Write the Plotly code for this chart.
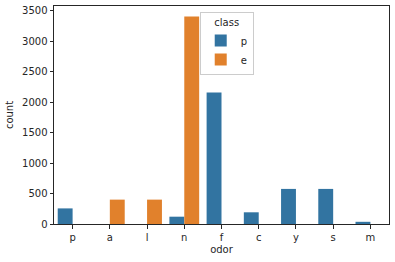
import plotly.graph_objects as go

odor = ["p", "a", "l", "n", "f", "c", "y", "s", "m"]
count_p = [256, 0, 0, 120, 2160, 192, 576, 576, 36]
count_e = [0, 400, 400, 3408, 0, 0, 0, 0, 0]

fig = go.Figure()
fig.add_trace(go.Bar(x=odor, y=count_p, name="p", marker=dict(color="#3274a1", line=dict(width=0))))
fig.add_trace(go.Bar(x=odor, y=count_e, name="e", marker=dict(color="#e1812c", line=dict(width=0))))

axis_common = dict(
    showline=True, mirror=True, linecolor="#262626", linewidth=1,
    ticks="outside", ticklen=3.5, tickwidth=1, tickcolor="#262626",
    showgrid=False, zeroline=False,
    tickfont=dict(family="DejaVu Sans", size=10, color="#262626"),
)

fig.update_layout(
    width=395, height=262,
    margin=dict(l=54, r=6, t=6, b=38),
    paper_bgcolor="white", plot_bgcolor="white",
    barmode="group", bargap=0.2, bargroupgap=0,
    font=dict(family="DejaVu Sans", size=10, color="#262626"),
    xaxis=dict(**axis_common, range=[-0.5, 8.5],
               title=dict(text="odor", font=dict(size=10), standoff=4)),
    yaxis=dict(**axis_common, range=[0, 3578.4], tickvals=[0, 500, 1000, 1500, 2000, 2500, 3000, 3500],
               title=dict(text="count", font=dict(size=10), standoff=6)),
    legend=dict(
        title=dict(text="class", side="top center", font=dict(size=10)),
        x=0.435, y=0.972, xanchor="left", yanchor="top",
        bgcolor="rgba(255,255,255,0.8)", bordercolor="#cccccc", borderwidth=1,
        font=dict(size=10), itemwidth=30, tracegroupgap=0,
    ),
)

fig.write_html("out.html")
